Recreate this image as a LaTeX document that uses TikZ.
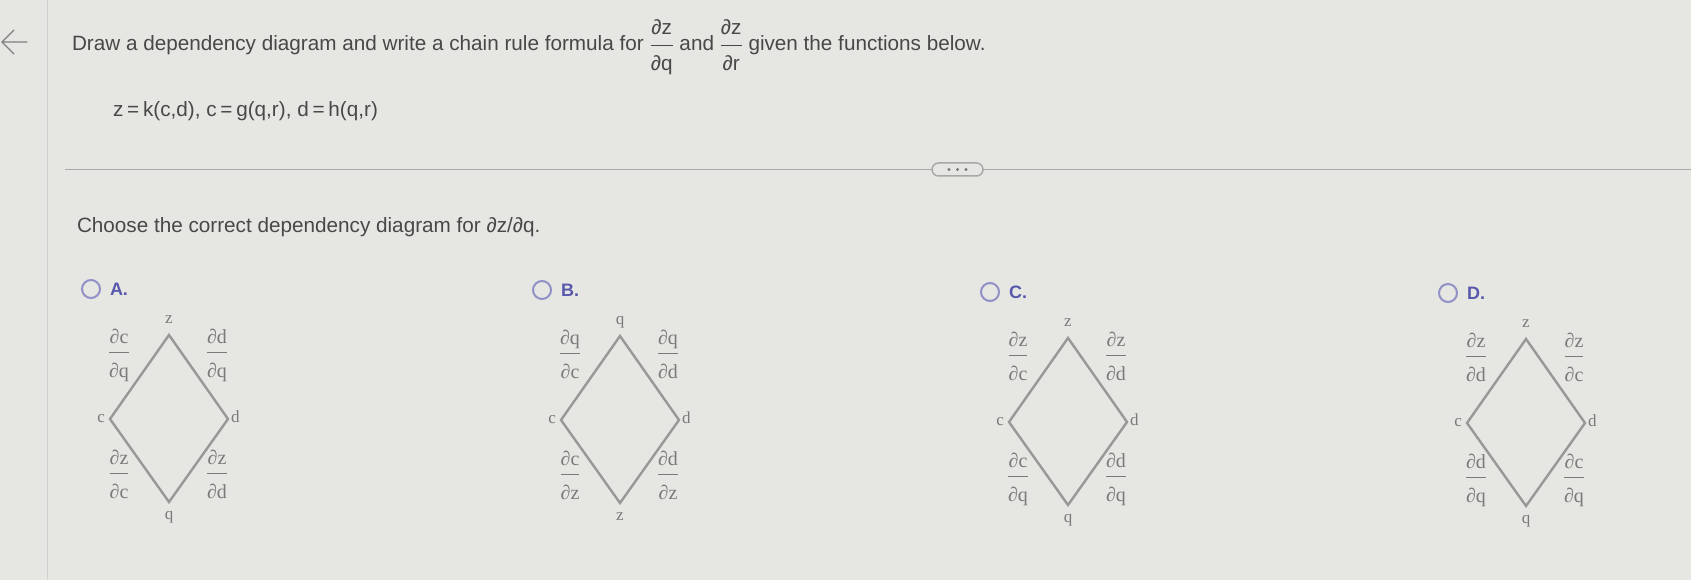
\documentclass[tikz,border=0pt]{standalone}
\usepackage{amsmath}
\usepackage{fontspec}
\usepackage{xcolor}
\usepackage{tikz}
\usetikzlibrary{positioning}
\setmainfont{Liberation Sans}
\newfontfamily\serifdia{Liberation Serif}

\definecolor{paper}{RGB}{230,230,226}
\definecolor{ink}{RGB}{72,72,72}
\definecolor{linegray}{RGB}{152,152,152}
\definecolor{labgray}{RGB}{122,122,122}
\definecolor{optblue}{RGB}{88,88,172}
\definecolor{ringblue}{RGB}{145,145,200}
\definecolor{rulegray}{RGB}{168,168,168}

\newcommand{\tfr}[2]{$\genfrac{}{}{0.9pt}{0}{\raisebox{2pt}{#1}}{\raisebox{-5pt}{#2}}$}
\newcommand{\dfr}[2]{$\genfrac{}{}{1pt}{0}{\mbox{∂#1}}{\raisebox{-5pt}{∂#2}}$}
\newcommand{\eqs}{\kern3.8pt=\kern3.8pt}

\begin{document}
\begin{tikzpicture}[x=1pt, y=-1pt,
  every node/.style={inner sep=0pt, outer sep=0pt},
  txt/.style={anchor=base west, text=ink, font=\fontsize{20.7}{25}\selectfont},
  vlab/.style={text=labgray, font=\serifdia\fontsize{17}{20}\selectfont},
  flab/.style={text=labgray, anchor=base, font=\serifdia\fontsize{20}{23}\selectfont},
  ring/.style={circle, draw=ringblue, line width=2pt, minimum size=18pt},
  optlabel/.style={text=optblue, font=\fontsize{18}{21}\selectfont\bfseries},
  dline/.style={draw=linegray, line width=2.4pt},
  pill/.style={draw=rulegray, line width=1.5pt, rounded corners=6.5pt, minimum width=51pt, minimum height=13pt}]
\fill[paper] (0,0) rectangle (1691,580);
\useasboundingbox (0,0) rectangle (1691,580);

% page furniture
\draw[white!82!black, line width=1pt] (47,0) -- (47,580);
\draw[gray, line width=1.4pt, line cap=round] (27,42) -- (2,42) (14,30) -- (2,42) -- (14,54);

% question
\node[txt] (ask) at (72,51) {Draw a dependency diagram and write a chain rule formula for \tfr{∂z}{∂q} and \tfr{∂z}{∂r} given the functions below.};
\node[txt] (fns) at (113,117) {z\eqs k(c,d), c\eqs g(q,r), d\eqs h(q,r)};

\node[pill] (more) at (957.5,169.5) {};
\coordinate (hl) at (65,169.5);
\coordinate (hr) at (1691,169.5);
\draw[rulegray, line width=1.5pt] (hl) -- (more.west) (more.east) -- (hr);
\foreach \dx in {-8.5,0,8.5}
  \fill[rulegray!70!black] ([xshift=\dx pt]more.center) circle (1.6pt);

\node[txt] (pick) at (77,233) {Choose the correct dependency diagram for ∂z/∂q.};

% the four choices
\foreach \cx/\dy/\ltr/\tp/\bt/\tln/\tld/\trn/\trd/\bln/\bld/\brn/\brd in {
  169/0/A/z/q/c/q/d/q/z/c/z/d,
  620/1/B/q/z/q/c/q/d/c/z/d/z,
  1068/3/C/z/q/z/c/z/d/c/q/d/q,
  1526/4/D/z/q/z/d/z/c/d/q/c/q}{
  \node[ring] (\ltr-o) at (\cx-78,289+\dy) {};
  \node[optlabel, right=10pt of \ltr-o] (\ltr-l) {\ltr.};
  \coordinate (\ltr-t) at (\cx,335+\dy);
  \coordinate (\ltr-w) at (\cx-59,419+\dy);
  \coordinate (\ltr-e) at (\cx+59,419+\dy);
  \coordinate (\ltr-b) at (\cx,502+\dy);
  \draw[dline] (\ltr-t) -- (\ltr-e) -- (\ltr-b) -- (\ltr-w) -- cycle;
  \node[vlab, anchor=base] (\ltr-tn) at ([yshift=12pt]\ltr-t) {\tp};
  \node[vlab, anchor=base] (\ltr-bn) at ([yshift=-17pt]\ltr-b) {\bt};
  \node[vlab, anchor=base east] (\ltr-wn) at ([shift={(-5pt,-3pt)}]\ltr-w) {c};
  \node[vlab, anchor=base west] (\ltr-en) at ([shift={(3pt,-3pt)}]\ltr-e) {d};
  \node[flab] (\ltr-f1) at ([shift={(-50pt,-23pt)}]\ltr-t) {\dfr{\tln}{\tld}};
  \node[flab] (\ltr-f2) at ([shift={(48pt,-23pt)}]\ltr-t) {\dfr{\trn}{\trd}};
  \node[flab] (\ltr-f3) at ([shift={(-50pt,23pt)}]\ltr-b) {\dfr{\bln}{\bld}};
  \node[flab] (\ltr-f4) at ([shift={(48pt,23pt)}]\ltr-b) {\dfr{\brn}{\brd}};
}
\end{tikzpicture}
\end{document}
